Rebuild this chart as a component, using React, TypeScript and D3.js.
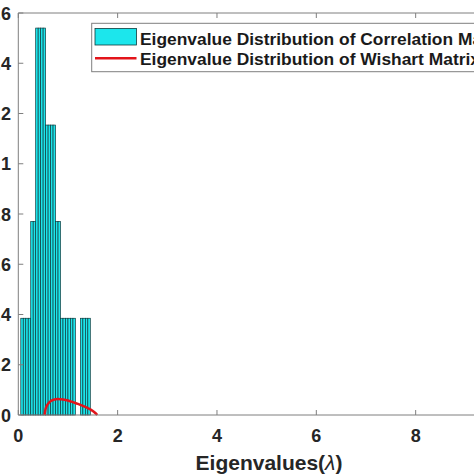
import React from 'react';
import * as d3 from 'd3';

// histogram bins (left edge, width 0.05) and normalised heights
const binLeft = [0.05, 0.10, 0.15, 0.20, 0.25, 0.30, 0.35, 0.40, 0.45, 0.50, 0.55, 0.60, 0.65, 0.70,
  0.75, 0.80, 0.85, 0.90, 0.95, 1.00, 1.05, 1.10, 1.25, 1.30, 1.35, 1.40];
const binHeight = [0.385, 0.385, 0.385, 0.385, 0.77, 0.77, 1.54, 1.54, 1.54, 1.54, 1.154, 1.154, 1.154, 1.154,
  0.77, 0.77, 0.385, 0.385, 0.385, 0.385, 0.385, 0.385, 0.385, 0.385, 0.385, 0.385];
const binWidth = 0.05;

// Wishart (Marchenko-Pastur) curve
const curveX = [0.53, 0.55, 0.6, 0.65, 0.7, 0.8, 0.9, 1.0, 1.1, 1.2, 1.3, 1.4, 1.5, 1.55, 1.59];
const curveY = [0, 0.025, 0.045, 0.055, 0.06, 0.064, 0.062, 0.058, 0.051, 0.044, 0.036, 0.027, 0.016, 0.008, 0];

const xTicks = [0, 2, 4, 6, 8];
const yTicks = [0, 0.2, 0.4, 0.6, 0.8, 1, 1.2, 1.4, 1.6];

const legendItems = [
  'Eigenvalue Distribution of Correlation Matrix',
  'Eigenvalue Distribution of Wishart Matrix',
];

const W = 474;
const H = 474;
const axisColor = '#7f7f7f';
const font = 'Liberation Sans, Arial, sans-serif';

export default function App() {
  const x = d3.scaleLinear().domain([0, 10]).range([18.3, 515]);
  const y = d3.scaleLinear().domain([0, 1.6]).range([415, 13]);
  const [x0, x1] = x.range();
  const [yb, yt] = y.range();

  const line = d3.line<number>()
    .x((_, i) => x(curveX[i]))
    .y(d => y(d))
    .curve(d3.curveMonotoneX);

  return (
    <svg width={W} height={H} style={{ position: 'absolute', left: 0, top: 0, background: '#fff' }}>
      {binLeft.map((b, i) => (
        <rect
          key={i}
          x={x(b)}
          y={y(binHeight[i])}
          width={x(b + binWidth) - x(b)}
          height={yb - y(binHeight[i])}
          fill="#1ce6ec"
          stroke="#103a3c"
          strokeWidth={0.7}
        />
      ))}
      <path d={line(curveY) || ''} fill="none" stroke="#e3141a" strokeWidth={2.5} />

      {/* axes box */}
      <line x1={x0} x2={x1} y1={yb} y2={yb} stroke={axisColor} />
      <line x1={x0} x2={x1} y1={yt} y2={yt} stroke={axisColor} />
      <line x1={x0} x2={x0} y1={yt} y2={yb} stroke={axisColor} />
      {xTicks.map(t => (
        <g key={t}>
          <line x1={x(t)} x2={x(t)} y1={yb} y2={yb - 5} stroke={axisColor} />
          <line x1={x(t)} x2={x(t)} y1={yt} y2={yt + 5} stroke={axisColor} />
          <text x={x(t)} y={442} textAnchor="middle" fontFamily={font} fontWeight="bold" fontSize={18} fill="#262626">
            {t}
          </text>
        </g>
      ))}
      {yTicks.map(t => (
        <g key={t}>
          <line x1={x0} x2={x0 + 5} y1={y(t)} y2={y(t)} stroke={axisColor} />
          <text x={11} y={y(t) + 6.5} textAnchor="end" fontFamily={font} fontWeight="bold" fontSize={18} fill="#262626">
            {t}
          </text>
        </g>
      ))}
      <text x={269} y={470} textAnchor="middle" fontFamily={font} fontWeight="bold" fontSize={21} fill="#262626">
        Eigenvalues(<tspan fontStyle="italic" fontWeight="normal">λ</tspan>)
      </text>

      {/* legend */}
      <rect x={91.7} y={23.3} width={420} height={48.4} fill="#fff" stroke={axisColor} />
      <rect x={95} y={28.5} width={41.5} height={16.5} fill="#1ce6ec" stroke="#103a3c" strokeWidth={0.8} />
      <line x1={95} x2={136.5} y1={58.3} y2={58.3} stroke="#e3141a" strokeWidth={2.5} />
      {legendItems.map((s, i) => (
        <text key={s} x={140} y={45 + i * 20.3} fontFamily={font} fontWeight="bold" fontSize={17.4} fill="#1a1a1a">
          {s}
        </text>
      ))}
    </svg>
  );
}
